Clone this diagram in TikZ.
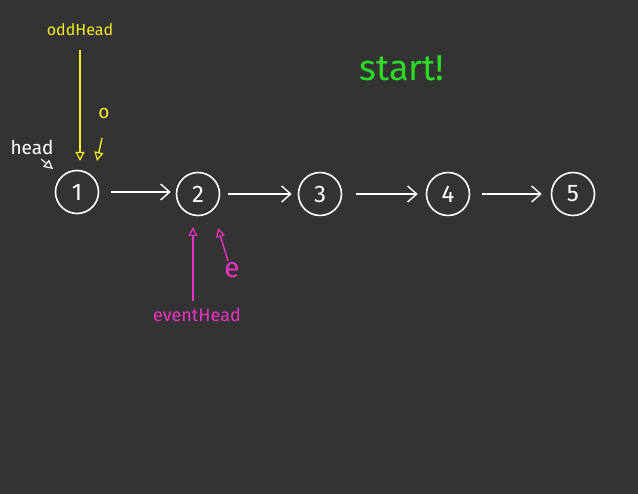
\documentclass[tikz,border=0pt]{standalone}
\usepackage{fontspec}
\setmainfont{Fira Sans}
\usetikzlibrary{arrows.meta}
\definecolor{bg}{HTML}{333333}
\definecolor{yel}{HTML}{F2F01C}
\definecolor{pnk}{HTML}{EE32C4}
\definecolor{grn}{HTML}{2BDD22}
\begin{document}
\begin{tikzpicture}[x=1pt,y=-1pt,
  lnode/.style={circle,draw=white,line width=1.6pt,minimum size=43pt,inner sep=0pt,text=white,font=\fontsize{24}{24}\selectfont},
  nextarrow/.style={draw=white,line width=1.4pt,-{Straight Barb[length=9pt,width=16pt,line width=1.4pt]}},
  ptr/.style={line width=1.4pt,-{Triangle[open,length=9pt,width=9pt,line width=1.2pt]}},
  lbl/.style={font=\fontsize{16}{16}\selectfont,inner sep=0pt}]
\fill[bg] (0,0) rectangle (638,494);
\useasboundingbox (0,0) rectangle (638,494);
\node[lnode] (n1) at (77,192) {1};
\node[lnode] (n2) at (198,194) {2};
\node[lnode] (n3) at (320,194) {3};
\node[lnode] (n4) at (448,194) {4};
\node[lnode] (n5) at (573,194) {5};
\draw[nextarrow] ([xshift=12pt]n1.east) -- ([xshift=-5pt]n2.west |- n1.east);
\draw[nextarrow] ([xshift=8pt]n2.east) -- ([xshift=-6pt]n3.west);
\draw[nextarrow] ([xshift=14pt]n3.east) -- ([xshift=-8pt]n4.west);
\draw[nextarrow] ([xshift=12pt]n4.east) -- ([xshift=-9pt]n5.west);
% labels
\node[lbl,text=yel] (odd) at (80,30) {oddHead};
\node[lbl,text=yel,font=\fontsize{19}{19}\selectfont] (o) at (104,113) {o};
\node[lbl,text=white,font=\fontsize{19}{19}\selectfont] (head) at (32,147) {head};
\node[lbl,text=pnk,font=\fontsize{18}{18}\selectfont] (even) at (197,315) {eventHead};
\node[lbl,text=pnk,font=\fontsize{28}{28}\selectfont] (e) at (232,270) {e};
\node[lbl,text=grn,font=\fontsize{36}{36}\selectfont] (start) at (402,68) {start!};
\coordinate (oddtip) at (80,161);
\coordinate (otip) at (97,161);
\coordinate (headtip) at (53,169);
\coordinate (eventip) at (193,227);
\coordinate (etip) at (218,228);
\draw[ptr,yel] ([yshift=-14pt]odd.south -| oddtip) -- (oddtip);
\draw[ptr,yel] (102,138) -- (otip);
\draw[ptr,white,line width=1pt] (41,159) -- (headtip);
\draw[ptr,pnk] ([yshift=7pt]even.north -| eventip) -- (eventip);
\draw[ptr,pnk] (228,261) -- (etip);
\end{tikzpicture}
\end{document}
